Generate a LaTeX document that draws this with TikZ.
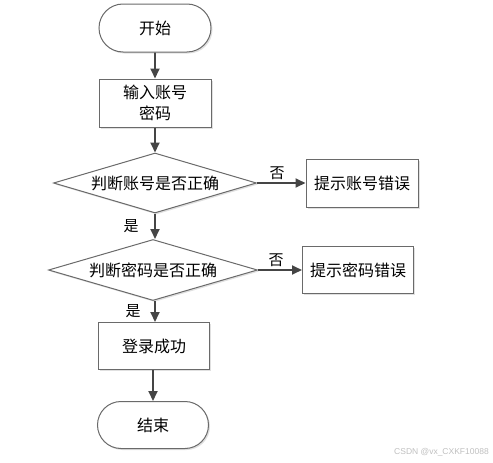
\documentclass[tikz,border=0pt]{standalone}
\usepackage{fontspec}
\setmainfont{Liberation Sans}
\newfontfamily\cjk{Noto Sans CJK SC}
\usetikzlibrary{shapes.geometric,shapes.misc,arrows.meta,shadows}
\definecolor{edgec}{HTML}{6A6A6A}
\definecolor{arrc}{HTML}{454545}
\tikzset{
  base/.style={draw=edgec, line width=1pt, fill=white, font=\cjk\fontsize{16}{21}\selectfont, align=center, inner sep=0pt,
    drop shadow={shadow xshift=1.5pt, shadow yshift=-1.5pt, fill=black!12, opacity=1}},
  term/.style={base, rounded rectangle, minimum width=112pt, minimum height=48pt},
  proc/.style={base, rectangle, minimum width=112pt, minimum height=48pt},
  dec/.style={base, diamond, aspect=3.4},
  arr/.style={draw=arrc, line width=1.8pt, -{Triangle[length=10pt,width=9pt]}},
  lbl/.style={font=\cjk\fontsize{15}{16}\selectfont, inner sep=0pt},
}
\begin{document}
\begin{tikzpicture}[x=1pt,y=-1pt]
\useasboundingbox (0,0) rectangle (493,463);
\node[term] (start) at (155,28) {开始};
\node[proc] (input) at (155,103) {输入账号\\密码};
\node[dec, minimum width=203pt, minimum height=60pt] (d1) at (155,183) {判断账号是否正确};
\node[proc] (e1) at (362,183) {提示账号错误};
\node[dec, minimum width=209pt, minimum height=61pt] (d2) at (153,270) {判断密码是否正确};
\node[proc, minimum width=111pt, minimum height=47pt] (e2) at (358,270) {提示密码错误};
\node[proc, minimum width=111pt, minimum height=47pt] (ok) at (154,346) {登录成功};
\node[term, minimum width=111pt, minimum height=47pt] (end) at (153,425) {结束};
\draw[arr] (start) -- (input);
\draw[arr] (input) -- (d1);
\draw[arr] (d1) -- (e1);
\draw[arr] (d1.south) -- (d1.south |- d2.north);
\draw[arr] (d2) -- (e2);
\draw[arr] (d2.south -| d1.south) -- (d1.south |- ok.north);
\draw[arr] (ok.south -| end.north) -- (end);
\node[lbl] (n1) at (277,173) {否};
\node[lbl] (y1) at (131,226) {是};
\node[lbl] (n2) at (276,260) {否};
\node[lbl] (y2) at (133,311) {是};
\node[font=\fontsize{8.5}{10}\selectfont, text=black!25, inner sep=0pt, anchor=east] (wm) at (489,452) {CSDN @vx\_CXKF10088};
\end{tikzpicture}
\end{document}
